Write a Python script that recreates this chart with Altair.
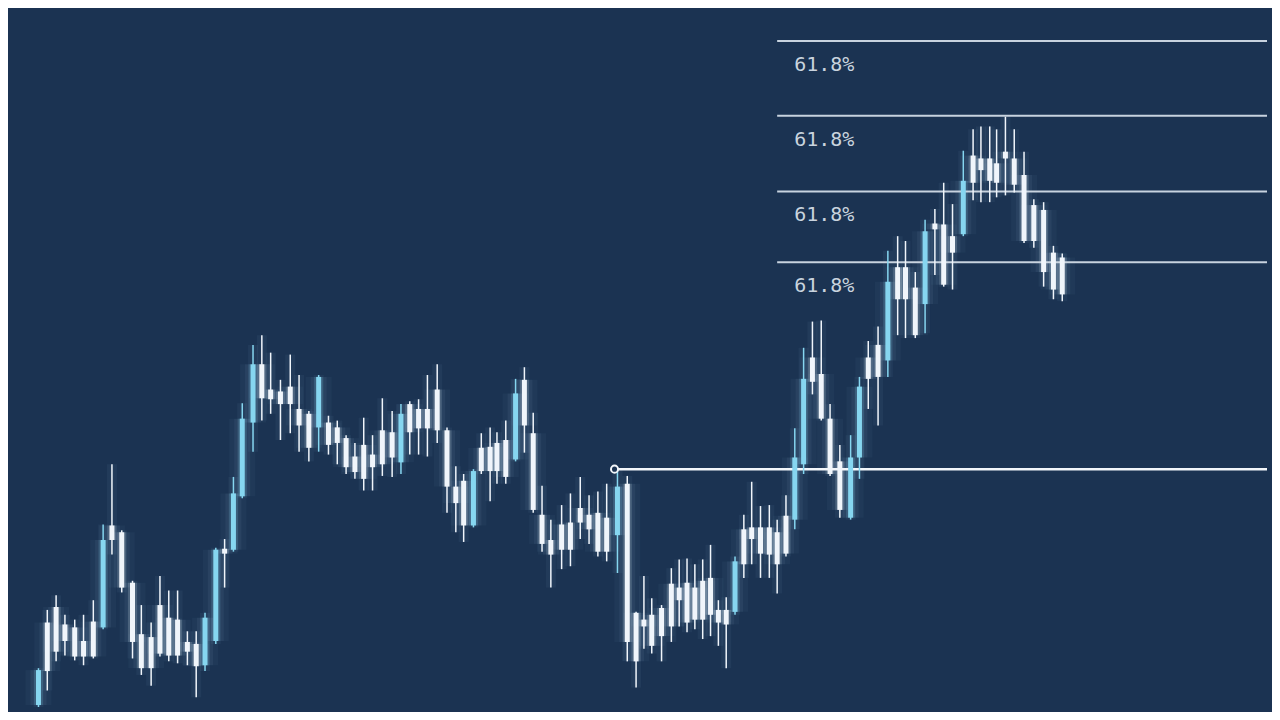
import altair as alt
import pandas as pd

# ---- candle data (time position, OHLC in price points) ----
t = [26, 35, 44, 53, 63, 72, 82, 92, 101, 111, 122, 131, 141, 150, 159, 168, 178, 187, 196, 207,
     216, 225, 234, 245, 254, 263, 273, 283, 292, 302, 312, 322, 331, 340, 349, 358, 367, 377, 387, 396,
     405, 414, 423, 433, 443, 452, 460, 470, 478, 487, 494, 503, 513, 522, 531, 540, 549, 560, 569, 579,
     588, 597, 606, 617, 627, 636, 644, 652, 662, 672, 680, 688, 696, 704, 712, 720, 728, 737, 746, 754,
     763, 772, 780, 789, 798, 807, 816, 825, 834, 844, 855, 864, 873, 883, 893, 903, 911, 921, 931, 941,
     950, 959, 970, 980, 988, 997, 1004, 1013, 1022, 1032, 1042, 1052, 1062, 1071]
open_ = [2, 87, 103, 85, 82, 68, 88, 82, 187, 180, 128, 75, 72, 105, 92, 90, 67, 65, 43, 68,
         163, 162, 217, 293, 353, 327, 325, 330, 307, 302, 288, 293, 288, 277, 258, 270, 260, 285, 283, 252,
         312, 307, 307, 327, 285, 227, 233, 187, 267, 268, 272, 275, 255, 337, 282, 198, 172, 188, 190, 205,
         198, 200, 195, 177, 230, 97, 90, 95, 102, 127, 123, 128, 123, 130, 133, 100, 100, 98, 183, 185,
         185, 185, 180, 197, 193, 250, 360, 343, 297, 253, 195, 257, 360, 373, 357, 453, 453, 432, 415, 498,
         497, 485, 487, 568, 565, 565, 560, 572, 565, 548, 517, 512, 468, 463]
high = [40, 100, 115, 95, 90, 95, 110, 188, 250, 182, 130, 105, 87, 135, 120, 120, 78, 78, 97, 164,
        173, 237, 313, 373, 383, 365, 337, 363, 342, 305, 342, 300, 295, 280, 272, 298, 280, 318, 305, 312,
        315, 317, 342, 353, 288, 248, 240, 245, 282, 288, 283, 295, 338, 350, 303, 228, 193, 208, 220, 237,
        218, 222, 230, 245, 238, 98, 135, 112, 105, 143, 152, 153, 147, 152, 167, 110, 113, 155, 198, 232,
        207, 208, 193, 218, 287, 370, 397, 398, 312, 270, 280, 340, 377, 392, 470, 485, 480, 448, 502, 513,
        540, 518, 573, 595, 598, 598, 595, 608, 595, 572, 523, 520, 475, 467]
low = [0, 17, 47, 53, 48, 43, 50, 80, 157, 118, 50, 33, 22, 52, 47, 45, 43, 10, 37, 65,
       123, 160, 215, 263, 295, 302, 275, 282, 263, 253, 263, 260, 250, 240, 235, 223, 223, 238, 237, 240,
       260, 260, 258, 272, 200, 180, 170, 185, 240, 212, 230, 230, 253, 262, 200, 160, 123, 142, 145, 173,
       168, 155, 150, 138, 47, 20, 60, 55, 47, 67, 83, 77, 80, 70, 73, 63, 40, 95, 133, 147,
       133, 133, 117, 155, 183, 240, 322, 295, 238, 195, 193, 235, 307, 290, 340, 383, 380, 380, 385, 445,
       433, 430, 485, 522, 520, 520, 525, 527, 530, 478, 473, 433, 420, 418]
close = [38, 37, 57, 68, 52, 52, 52, 172, 172, 123, 67, 40, 40, 55, 53, 53, 57, 42, 92, 162,
         158, 220, 297, 353, 318, 317, 312, 312, 290, 267, 340, 270, 272, 247, 242, 235, 247, 250, 257, 302,
         283, 287, 287, 285, 227, 210, 187, 243, 243, 243, 243, 237, 323, 290, 203, 168, 157, 162, 162, 190,
         183, 160, 160, 227, 67, 47, 83, 63, 73, 83, 110, 87, 90, 90, 95, 87, 85, 150, 147, 173,
         158, 157, 147, 158, 257, 338, 335, 297, 240, 203, 257, 330, 338, 340, 438, 420, 420, 383, 490, 492,
         435, 468, 542, 540, 553, 542, 540, 565, 538, 480, 480, 448, 430, 425]

# ---- reference levels ----
fib_levels = [686, 609, 531, 458]
fib_labels = ["61.8%", "61.8%", "61.8%", "61.8%"]
fib_start = [780, 780, 780, 780]
support_level = [245]
support_start = [614]
x_end = 1280

df = pd.DataFrame({"t": t, "open": open_, "high": high, "low": low, "close": close})
df["dir"] = ["up" if c > o else "down" for o, c in zip(df["open"], df["close"])]

fib_df = pd.DataFrame({"level": fib_levels, "label": fib_labels, "start": fib_start,
                       "end": [x_end] * len(fib_levels)})
sup_df = pd.DataFrame({"level": support_level, "start": support_start, "end": [x_end]})

BG = "#1b3352"
xs = alt.Scale(domain=[0, 1280], nice=False, zero=False)
ys = alt.Scale(domain=[0, 720], nice=False, zero=False)
X = alt.X("t:Q", scale=xs, axis=None)
col = alt.Color("dir:N", scale=alt.Scale(domain=["up", "down"], range=["#86d6f0", "#f0f5fb"]), legend=None)

base = alt.Chart(df)

glow_wick = base.mark_rule(strokeWidth=10, opacity=0.05, color="#a9d8ff").encode(
    x=X, y=alt.Y("low:Q", scale=ys, axis=None), y2="high:Q")
glow_body0 = base.mark_bar(size=26, opacity=0.035, color="#b5dcff").encode(
    x=X, y=alt.Y("open:Q", scale=ys, axis=None), y2="close:Q")
glow_body1 = base.mark_bar(size=16, opacity=0.06, color="#b5dcff").encode(
    x=X, y=alt.Y("open:Q", scale=ys, axis=None), y2="close:Q")
glow_body2 = base.mark_bar(size=9, opacity=0.15).encode(
    x=X, y=alt.Y("open:Q", scale=ys, axis=None), y2="close:Q", color=col)
wick = base.mark_rule(strokeWidth=1.5).encode(
    x=X, y=alt.Y("low:Q", scale=ys, axis=None), y2="high:Q", color=col)
body = base.mark_bar(size=5).encode(
    x=X, y=alt.Y("open:Q", scale=ys, axis=None), y2="close:Q", color=col)

fib_lines = alt.Chart(fib_df).mark_rule(color="#c8d3df", strokeWidth=2).encode(
    x=alt.X("start:Q", scale=xs, axis=None), x2="end:Q", y=alt.Y("level:Q", scale=ys, axis=None))
fib_text = alt.Chart(fib_df).mark_text(
    align="left", baseline="middle", dx=17, dy=24, fontSize=20,
    font="DejaVu Sans Mono", color="#c9d3de").encode(
    x=alt.X("start:Q", scale=xs, axis=None), y=alt.Y("level:Q", scale=ys, axis=None), text="label:N")

sup_line = alt.Chart(sup_df).mark_rule(color="#f2f6fa", strokeWidth=2.5).encode(
    x=alt.X("start:Q", scale=xs, axis=None), x2="end:Q", y=alt.Y("level:Q", scale=ys, axis=None))
sup_dot = alt.Chart(sup_df).mark_point(shape="circle", size=50, filled=False, strokeWidth=2,
                                        color="#f2f6fa", fill=BG, fillOpacity=1).encode(
    x=alt.X("start:Q", scale=xs, axis=None), y=alt.Y("level:Q", scale=ys, axis=None))

chart = alt.layer(
    glow_wick, glow_body0, glow_body1, glow_body2, fib_lines, sup_line, wick, body, sup_dot, fib_text
).properties(
    width=1264, height=704, padding=0, background=BG,
    autosize=alt.AutoSizeParams(type="fit", contains="padding"),
).configure_view(strokeWidth=0)

chart.save("out.html", embed_options={"renderer": "svg", "actions": False})
